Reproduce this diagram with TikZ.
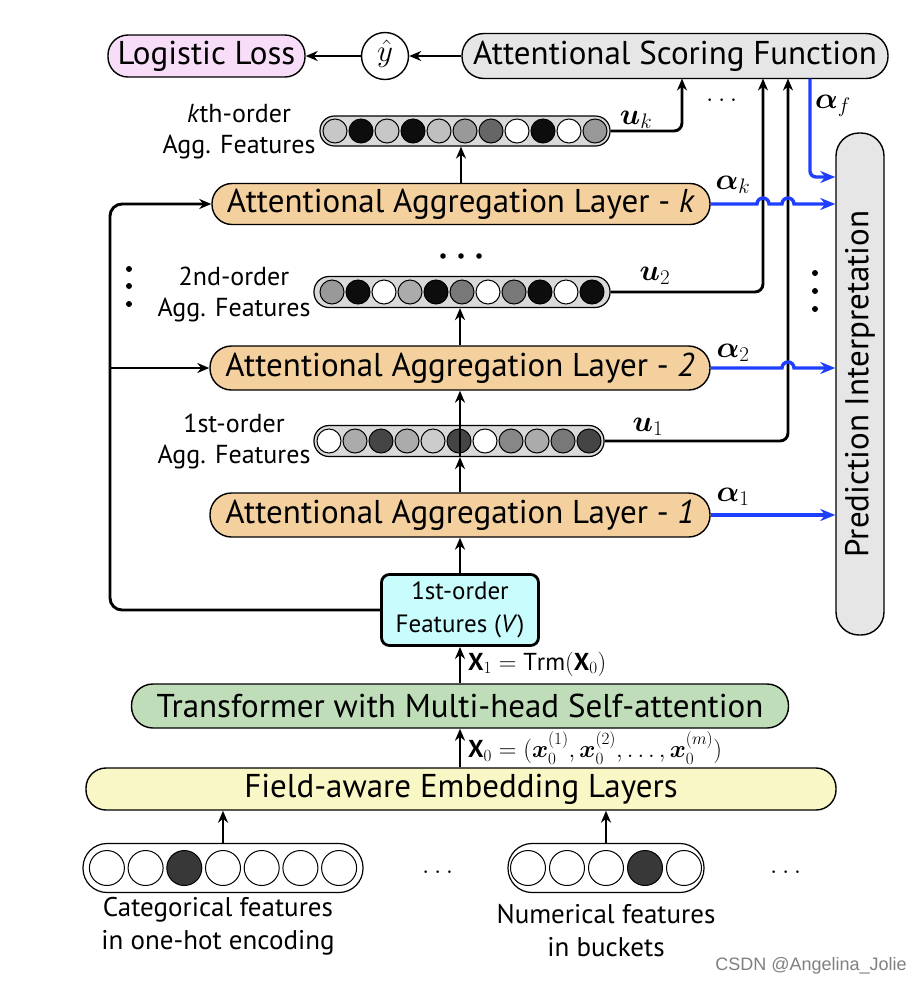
\RequirePackage{fix-cm}
\documentclass[tikz,border=0pt]{standalone}
\usepackage{amsmath}
\usepackage{bm}
\usepackage{fontspec}
\setmainfont{PT Sans}
\newfontfamily\csdnfont{Liberation Sans}
\usetikzlibrary{arrows.meta,calc}
\definecolor{cpink}{HTML}{F7DDF7}
\definecolor{cgray}{HTML}{E6E6E6}
\definecolor{corange}{HTML}{F4D09F}
\definecolor{ccyan}{HTML}{C9FCFC}
\definecolor{cgreen}{HTML}{BFDDB8}
\definecolor{cyellow}{HTML}{FAF7C6}
\definecolor{cbar}{HTML}{D9D9D9}
\definecolor{cblue}{HTML}{1F3FFF}
\tikzset{
  pill/.style={draw=black, line width=1.4pt, inner sep=0pt, font=\fontsize{33}{36}\selectfont},
  bar/.style={draw=black, line width=1.2pt, fill=cbar, inner sep=0pt},
  wbar/.style={draw=black, line width=1.2pt, fill=white, inner sep=0pt},
  dot/.style={circle, draw=black, line width=1pt, minimum size=24, inner sep=0pt},
  bdot/.style={circle, draw=black, line width=1pt, minimum size=35, inner sep=0pt},
  arr/.style={-{Stealth[length=12pt,width=10pt]}, line width=2.9pt},
  barr/.style={-{Stealth[length=15pt,width=12pt]}, line width=3.4pt, draw=cblue},
  lab/.style={font=\fontsize{26}{31}\selectfont, align=center, inner sep=0pt},
  mlab/.style={font=\fontsize{30}{32}\selectfont, inner sep=0pt},
  ddots/.style={font=\fontsize{27}{28}\selectfont, inner sep=0pt},
}
\begin{document}
\begin{tikzpicture}[x=1pt,y=-1pt]
\useasboundingbox (0,0) rectangle (924,986);
\fill[white] (0,0) rectangle (924,986);

% top row
\node[pill, fill=cpink, minimum width=197, minimum height=42, rounded corners=20] (loss) at (206.5,56) {Logistic Loss};
\node[circle, draw=black, line width=1.4pt, minimum size=47, inner sep=0pt] (yhat) at (385,56) {};
\node[font=\fontsize{31}{33}\selectfont, inner sep=0pt] (yhattext) at (385,54) {$\hat{y}$};
\node[pill, fill=cgray, minimum width=426, minimum height=45, rounded corners=22] (score) at (675,56) {Attentional Scoring Function};
\draw[arr] (score.west) -- (yhat.east);
\draw[arr] (yhat.west) -- (loss.east);

\coordinate (sk) at (682,78.5);
\coordinate (s2) at (763,78.5);
\coordinate (s1) at (788,78.5);
\coordinate (sf) at (810,78.5);

% prediction interpretation
\node[pill, fill=cgray, minimum width=48, minimum height=502, rounded corners=23] (pi) at (860,384) {};
\node[rotate=90, font=\fontsize{33}{36}\selectfont] (pitext) at (pi.center) {Prediction Interpretation};

% kth-order bar
\node[bar, minimum width=290, minimum height=30, rounded corners=14.5] (barK) at (465,131) {};
\foreach \c [count=\i] in {black!22,black!95,black!22,black!95,black!25,black!40,black!60,white,black!95,white,black!40}
  \node[dot, fill=\c] (barK-\i) at ({465+(\i-6)*26},131) {};
\node[lab] (labK) at (239,132) {\textit{k}th-order\\Agg. Features};
\draw[arr, rounded corners=8] (barK.east) -| (sk);
\node[mlab] (uk) at (636,120) {$\bm{u}_k$};
\node[ddots] (tdots) at (724,100) {$\dots$};

% layer k
\node[pill, fill=corange, minimum width=498, minimum height=41, rounded corners=20] (layerK) at (461,204) {Attentional Aggregation Layer - \textit{k}};
\draw[arr] (layerK.north) -- (barK.south -| layerK.north);

% 2nd-order bar
\fill (443,256) circle (2.8) (461,256) circle (2.8) (479,256) circle (2.8);
\node[bar, minimum width=296, minimum height=31, rounded corners=15] (bar2) at (462,292) {};
\foreach \c [count=\i] in {black!40,black!95,white,black!33,black!95,black!53,white,black!53,black!95,white,black!95}
  \node[dot, fill=\c] (bar2-\i) at ({462+(\i-6)*26},292) {};
\node[lab] (lab2) at (234,294) {2nd-order\\Agg. Features};
\draw[arr, rounded corners=8] (bar2.east) -| (s2);
\node[mlab] (u2) at (655,276) {$\bm{u}_2$};

% layer 2
\node[pill, fill=corange, minimum width=500, minimum height=44, rounded corners=21.5] (layer2) at (460,368) {Attentional Aggregation Layer - \textit{2}};
\draw[arr] (layer2.north) -- (bar2.south -| layer2.north);

% 1st-order bar
\node[bar, minimum width=290, minimum height=31, rounded corners=15] (bar1) at (459,441) {};
\foreach \c [count=\i] in {white,black!33,black!73,black!33,black!20,black!73,white,black!47,black!33,black!53,black!73}
  \node[dot, fill=\c] (bar1-\i) at ({459+(\i-6)*26},441) {};
\node[lab] (lab1) at (234,441) {1st-order\\Agg. Features};
\draw[arr, rounded corners=8] (bar1.east) -| (s1);
\node[mlab] (u1) at (648,427) {$\bm{u}_1$};
\draw[arr] (bar1.south -| layer2.south) -- (layer2.south);

% layer 1
\node[pill, fill=corange, minimum width=500, minimum height=44, rounded corners=21.5] (layer1) at (460,515) {Attentional Aggregation Layer - \textit{1}};
\draw[arr] (layer1.north) -- (bar1.south -| layer1.north);

% blue alpha arrows
\draw[barr] (layerK.east) -- (757,204) arc[start angle=180,end angle=360,radius=6] -- (782,204) arc[start angle=180,end angle=360,radius=6] -- (pi.west |- 0,204);
\draw[barr] (layer2.east) -- (782,368) arc[start angle=180,end angle=360,radius=6] -- (pi.west |- 0,368);
\draw[barr] (layer1.east) -- (pi.west |- 0,515);
\draw[barr, rounded corners=6] (sf) |- (pi.west |- 0,177);
\node[mlab] (ak) at (733,185) {$\bm{\alpha}_k$};
\node[mlab] (a2) at (733,353) {$\bm{\alpha}_2$};
\node[mlab] (a1) at (733,497) {$\bm{\alpha}_1$};
\node[mlab] (af) at (833,106) {$\bm{\alpha}_f$};

% vertical dots
\fill (129,269) circle (3) (129,286) circle (3) (129,304) circle (3);
\fill (815,273) circle (3) (815,291) circle (3) (815,309) circle (3);

% 1st-order features V
\node[draw=black, line width=2.8pt, fill=ccyan, minimum width=157, minimum height=71, rounded corners=8, inner sep=0pt, align=center, font=\fontsize{25}{33}\selectfont] (V) at (460,610) {1st-order\\Features (\textit{V})};
\draw[arr] (V.north) -- (layer1.south -| V.north);
\coordinate (lp) at (110,368);
\draw[arr, rounded corners=12] (V.west) -| (lp) |- (layerK.west);
\draw[arr] (lp) -- (layer2.west);

% transformer
\node[pill, fill=cgreen, minimum width=657, minimum height=44, rounded corners=21.5] (trans) at (460,706) {Transformer with Multi-head Self-attention};
\draw[arr] (trans.north) -- (V.south);
\node[font=\fontsize{24.5}{26}\selectfont, anchor=west, inner sep=0pt] (x1) at (468,664) {$\mathbf{X}_1=\mathrm{Trm}(\mathbf{X}_0)$};

% embedding
\node[pill, fill=cyellow, minimum width=750, minimum height=42, rounded corners=20] (emb) at (461,789) {Field-aware Embedding Layers};
\draw[arr] (emb.north -| trans.south) -- (trans.south);
\node[font=\fontsize{24.5}{26}\selectfont, anchor=west, inner sep=0pt] (x0) at (468,748) {$\mathbf{X}_0=(\bm{x}_0^{(1)},\bm{x}_0^{(2)},\dots,\bm{x}_0^{(m)})$};

% bottom input bars
\node[wbar, minimum width=280, minimum height=49, rounded corners=24] (cat) at (223,868) {};
\foreach \c [count=\i] in {white,white,black!78,white,white,white,white}
  \node[bdot, fill=\c] (cat-\i) at ({223+(\i-4)*38.7},868) {};
\node[wbar, minimum width=196, minimum height=49, rounded corners=24] (num) at (606,868) {};
\foreach \c [count=\i] in {white,white,white,black!78,white}
  \node[bdot, fill=\c] (num-\i) at ({606+(\i-3)*39},868) {};
\draw[arr] (cat.north) -- (cat.north |- emb.south);
\draw[arr] (num.north) -- (num.north |- emb.south);
\node[ddots] (d1) at (440,872) {$\dots$};
\node[ddots] (d2) at (788,872) {$\dots$};
\node[lab, font=\fontsize{27}{33}\selectfont] (catlab) at (218,926) {Categorical features\\in one-hot encoding};
\node[lab, font=\fontsize{27}{33}\selectfont] (numlab) at (606,931) {Numerical features\\in buckets};

\node[font=\csdnfont\fontsize{18}{20}\selectfont, text=black!50, inner sep=0pt] (csdn) at (811,966) {CSDN @Angelina\_Jolie};
\end{tikzpicture}
\end{document}
